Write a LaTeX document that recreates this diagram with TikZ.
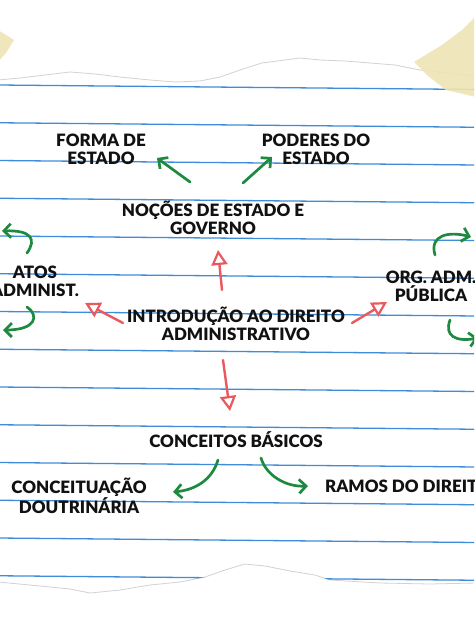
\documentclass[tikz,border=0pt]{standalone}
\usepackage{fontspec}
\setmainfont{Lato}[BoldFont={Lato Black}]
\usetikzlibrary{arrows.meta,calc}
\definecolor{papertop}{HTML}{E8E8EA}
\definecolor{paperbot}{HTML}{DAD9E2}
\definecolor{paperedge}{HTML}{D2D2D6}
\definecolor{ruled}{HTML}{3F8CD8}
\definecolor{tape}{HTML}{EEE4B4}
\definecolor{mkgreen}{HTML}{1E8A40}
\definecolor{mkred}{HTML}{E85A5E}
\definecolor{ink}{HTML}{111111}
\begin{document}
\begin{tikzpicture}[x=1pt,y=-1pt,
  label/.style={font=\bfseries\fontsize{17}{18}\selectfont, align=center, inner sep=0pt, text=ink},
  greenarrow/.style={draw=mkgreen, line width=2.7pt, line cap=round, line join=round,
    -{Straight Barb[length=7pt,width=14pt,line width=2.7pt]}},
  redarrow/.style={draw=mkred, line width=2.4pt, line cap=round, line join=round,
    -{Triangle[open,length=15pt,width=16pt,line width=2.2pt]}},
  ruleline/.style={draw=ruled, line width=1.3pt}]
\useasboundingbox (0,0) rectangle (474,631);
\clip (0,0) rectangle (474,631);
\fill[white] (0,0) rectangle (474,631);
% paper sheet
\path[save path=\papershape] (-2,80) -- (20,78) -- (45,75) -- (70,72) -- (95,74) -- (120,77) -- (150,80) -- (175,82) -- (200,81) -- (220,77) -- (240,70) -- (262,63) -- (285,60) -- (300,58) -- (320,60) -- (345,61) -- (370,63) -- (395,65) -- (420,70) -- (476,76)
  -- (476,583) -- (430,584) -- (380,583) -- (330,580) -- (315,575) -- (290,571) -- (265,566) -- (245,564) -- (225,570) -- (205,577) -- (180,582) -- (150,585) -- (120,590) -- (90,593) -- (70,589) -- (40,586) -- (-2,582) -- cycle;
\shade[top color=papertop, bottom color=paperbot, use path=\papershape];
\draw[paperedge, line width=0.8pt, use path=\papershape];
\begin{scope}
  \clip[use path=\papershape];
  \foreach \i in {0,...,13} {
    \draw[ruleline] (-2,{85+37.75*\i}) -- (476,{89.5+37.75*\i});
  }
\end{scope}
% tapes
\fill[tape, opacity=0.9] (-2,30) -- (14,40) -- (6,53) -- (-2,62) -- cycle;
\fill[tape, opacity=0.9] (476,16) -- (462,30) -- (442,45) -- (414,62) -- (428,76) -- (446,90) -- (476,97) -- cycle;
% text nodes
\node[label] (forma) at (101,149) {FORMA DE\\ESTADO};
\node[label] (poderes) at (316,149) {PODERES DO\\ESTADO};
\node[label] (nocoes) at (213,217.5) {NOÇÕES DE ESTADO E\\GOVERNO};
\node[label] (atos) at (35,281) {ATOS\\ADMINIST.};
\node[label] (intro) at (236,323.5) {INTRODUÇÃO AO DIREITO\\ADMINISTRATIVO};
\node[label] (org) at (431,286) {ORG. ADM.\\PÚBLICA};
\node[label] (conceitos) at (236,440) {CONCEITOS BÁSICOS};
\node[label] (conceituacao) at (79,495.5) {CONCEITUAÇÃO\\DOUTRINÁRIA};
\node[label, anchor=west] (ramos) at (325,486) {RAMOS DO DIREITO};
% free ends of hooks
\coordinate (atosUp) at (2,231);
\coordinate (atosDown) at (3,330);
\coordinate (orgUp) at (471,237);
\coordinate (orgDown) at (478,338);
% green arrows
\draw[greenarrow] ($(nocoes)+(-23,-35.5)$) -- ($(forma)+(56,9)$);
\draw[greenarrow] ($(nocoes)+(30,-34.5)$) -- ($(poderes)+(-44,8)$);
\draw[greenarrow] ($(atos)+(-8,-28)$) .. controls ($(atos)+(2,-42)$) and ($(atos)+(-4,-51)$) .. (atosUp);
\draw[greenarrow] ($(atos)+(-8,26)$) .. controls ($(atos)+(4,34)$) and ($(atos)+(2,49)$) .. (atosDown);
\draw[greenarrow] ($(org)+(4,-31)$) .. controls ($(org)+(-2,-51)$) and ($(org)+(18,-55)$) .. (orgUp);
\draw[greenarrow] ($(org)+(19,34)$) .. controls ($(org)+(13,50)$) and ($(org)+(25,56)$) .. (orgDown);
\draw[greenarrow] ($(conceitos)+(-18,20)$) .. controls ($(conceitos)+(-24,40)$) and ($(conceitos)+(-41,50)$) .. ($(conceitos)+(-63,52)$);
\draw[greenarrow] ($(conceitos)+(25,18)$) .. controls ($(conceitos)+(30,35)$) and ($(conceitos)+(49,47)$) .. ($(ramos.west)+(-17,0)$);
% red arrows
\draw[redarrow] ($(intro)+(-14,-33.5)$) -- ($(nocoes)+(5,32.5)$);
\draw[redarrow] ($(intro)+(-13,36.5)$) -- ($(conceitos)+(-6,-29)$);
\draw[redarrow] ($(intro)+(-113,-0.5)$) -- ($(atos)+(50,22)$);
\draw[redarrow] ($(intro)+(116,-0.5)$) -- ($(org)+(-44,16)$);
\end{tikzpicture}
\end{document}
